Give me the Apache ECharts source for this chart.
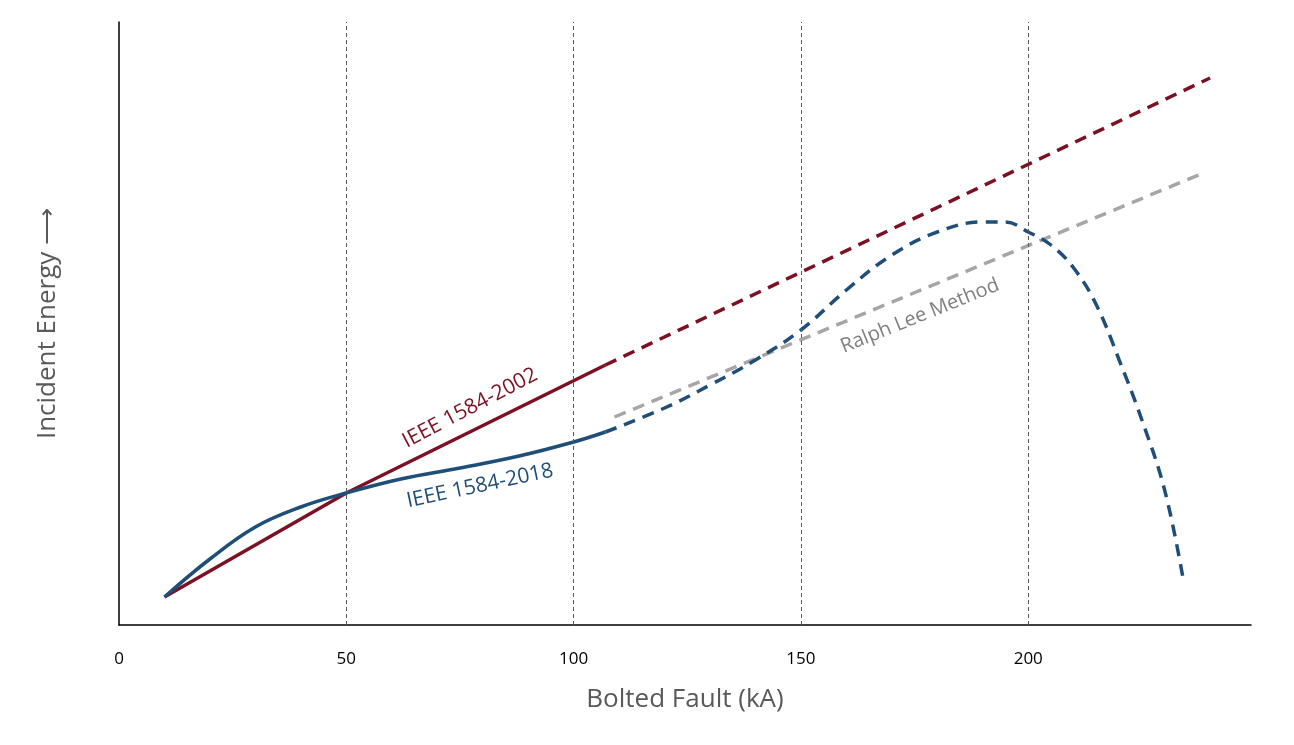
<!DOCTYPE html>
<html>
<head>
<meta charset="utf-8">
<script src="https://cdn.jsdelivr.net/npm/echarts@6/dist/echarts.min.js"></script>
<style>html,body{margin:0;background:#fff}#main{width:1294px;height:745px}</style>
</head>
<body>
<div id="main"></div>
<script>
// values (y in arbitrary energy units)
const ieee2002Solid = [[10, 28], [50, 132], [107, 260]]
const ieee2002Dash = [[107, 260], [240, 547]]
const ieee2018Solid = [[10, 28], [20, 66], [30, 98], [40, 118], [50, 132], [62, 146], [75, 157], [88, 169], [100, 183], [107, 193]]
const ieee2018Dash = [[107, 193], [120, 217], [130, 240], [140, 265], [150, 295], [160, 335], [170, 370], [180, 393], [190, 403], [195, 403], [200, 393], [205, 380], [210, 357], [215, 320], [220, 265], [225, 205], [230, 135], [234, 48]]
const ralphLee = [[109, 208], [238, 451]]
const gridLines = [50, 100, 150, 200]

const red = '#7B1123'
const blue = '#1F4E79'
const gray = '#A6A6A6'

let myChart = echarts.init(document.getElementById('main'))
myChart.setOption({
  animation: false,
  grid: { left: 119, right: 43, top: 22, bottom: 120 },
  xAxis: {
    type: 'value', min: 0, max: 249, interval: 50,
    name: 'Bolted Fault (kA)', nameLocation: 'middle', nameGap: 62,
    nameTextStyle: { fontSize: 26, color: '#595959', fontFamily: 'Open Sans' },
    axisLine: { lineStyle: { color: '#000', width: 1.5 } },
    axisTick: { show: false },
    axisLabel: { fontSize: 17, color: '#000', margin: 26, fontFamily: 'Open Sans', showMaxLabel: false },
    splitLine: { show: false }
  },
  yAxis: {
    type: 'value', min: 0, max: 603,
    name: 'Incident Energy \u27f6', nameLocation: 'middle', nameGap: 58,
    nameTextStyle: { fontSize: 26, color: '#595959', fontFamily: 'Open Sans' },
    axisLine: { show: true, lineStyle: { color: '#000', width: 1.5 } },
    axisTick: { show: false }, axisLabel: { show: false }, splitLine: { show: false }
  },
  series: [
    {
      type: 'line', data: [], symbol: 'none', silent: true,
      markLine: {
        symbol: 'none', label: { show: false },
        lineStyle: { color: '#595959', type: [4, 3], width: 1 },
        data: gridLines.map(function (v) { return { xAxis: v } })
      }
    },
    { type: 'line', data: ralphLee, symbol: 'none', lineStyle: { color: gray, width: 3.5, type: [12, 8] } },
    { type: 'line', data: ieee2002Solid, symbol: 'none', lineStyle: { color: red, width: 3.5 } },
    { type: 'line', data: ieee2002Dash, symbol: 'none', lineStyle: { color: red, width: 3.5, type: [12, 8] } },
    { type: 'line', data: ieee2018Solid, symbol: 'none', smooth: 0.4, lineStyle: { color: blue, width: 3.5 } },
    { type: 'line', data: ieee2018Dash, symbol: 'none', smooth: 0.4, lineStyle: { color: blue, width: 3.5, type: [12, 8] } }
  ],
  graphic: [
    { type: 'text', x: 470, y: 408, rotation: 27.7 * Math.PI / 180,
      style: { text: 'IEEE 1584-2002', fill: red, fontSize: 21, fontFamily: 'Open Sans', align: 'center', verticalAlign: 'middle' } },
    { type: 'text', x: 480, y: 486, rotation: 12 * Math.PI / 180,
      style: { text: 'IEEE 1584-2018', fill: blue, fontSize: 21, fontFamily: 'Open Sans', align: 'center', verticalAlign: 'middle' } },
    { type: 'text', x: 920, y: 316, rotation: 22 * Math.PI / 180,
      style: { text: 'Ralph Lee Method', fill: '#808080', fontSize: 20, fontFamily: 'Open Sans', align: 'center', verticalAlign: 'middle' } }
  ]
})
</script>
</body>
</html>
